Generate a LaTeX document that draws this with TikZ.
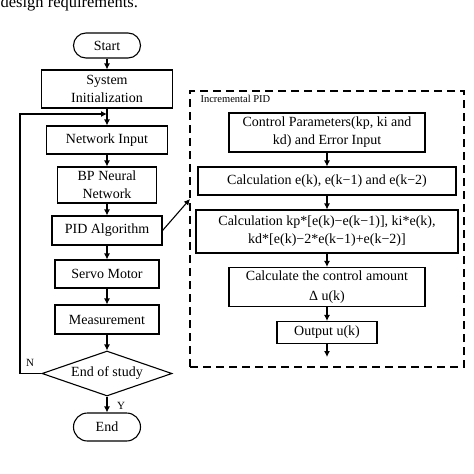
\documentclass[tikz,border=0pt]{standalone}
\usepackage{fontspec}
\setmainfont{Liberation Serif}
\usetikzlibrary{shapes.geometric,arrows.meta}
\begin{document}
\begin{tikzpicture}[x=1pt,y=-1pt,line width=1.1pt,
  box/.style={draw,rectangle,align=center,inner sep=0pt,font=\fontsize{14}{18}\selectfont},
  term/.style={box,rounded corners=#1},
  arr/.style={-{Latex[length=6pt,width=6pt]}},
  lbl/.style={inner sep=0pt,font=\fontsize{11}{13}\selectfont}]
\useasboundingbox (0,0) rectangle (474,474);
\node[anchor=base west,inner sep=0pt,font=\fontsize{16.5}{20}\selectfont] (cap) at (0,7) {design requirements.};
% left column
\node[term=12.5pt,minimum width=67pt,minimum height=25pt] (start) at (107,45.5) {Start};
\node[box,minimum width=131pt,minimum height=38pt] (init) at (107,89) {System\\Initialization};
\node[box,minimum width=121pt,minimum height=28pt] (netin) at (107,140) {Network Input};
\node[box,minimum width=99pt,minimum height=36pt] (bp) at (107,185) {BP Neural\\Network};
\node[box,minimum width=110pt,minimum height=29pt] (pid) at (107,230.5) {PID Algorithm};
\node[box,minimum width=104pt,minimum height=28pt] (servo) at (107,274) {Servo Motor};
\node[box,minimum width=104pt,minimum height=29pt] (meas) at (107,319.5) {Measurement};
\node[draw,diamond,aspect=2.9,inner sep=0pt,minimum width=130pt,minimum height=45pt,font=\fontsize{14}{18}\selectfont] (dia) at (107,373.5) {End of study};
\node[term=14pt,minimum width=67pt,minimum height=28pt] (endn) at (107,427) {End};
\draw[arr] (start) -- (init);
\draw[arr] (init) -- (netin);
\draw[arr] (netin) -- (bp);
\draw[arr] (bp) -- (pid);
\draw[arr] (pid) -- (servo);
\draw[arr] (servo) -- (meas);
\draw[arr] (meas) -- (dia);
\draw[arr] (dia) -- (endn);
\coordinate (lc) at (20,114);
\coordinate (loopin) at (107,114);
\draw[arr] (dia.west) -| (lc) -- (loopin);
\node[lbl] (nlab) at (30,363) {N};
\node[lbl] (ylab) at (121,406) {Y};
% incremental PID
\node[draw,dash pattern=on 8pt off 5pt,minimum width=274pt,minimum height=276pt,inner sep=0pt] (inc) at (327,229) {};
\node[anchor=west,inner sep=0pt,font=\fontsize{10.5}{12}\selectfont] (inclbl) at (200,99) {Incremental PID};
\node[box,minimum width=196pt,minimum height=39pt] (cp) at (327,132.5) {Control Parameters(kp, ki and\\kd) and Error Input};
\node[box,minimum width=258pt,minimum height=28pt] (ce) at (327,181) {Calculation e(k), e(k−1) and e(k−2)};
\node[box,minimum width=262pt,minimum height=43pt] (ckp) at (327,231.5) {Calculation kp*[e(k)−e(k−1)], ki*e(k),\\kd*[e(k)−2*e(k−1)+e(k−2)]};
\node[box,minimum width=196pt,minimum height=39pt,font=\fontsize{14}{20}\selectfont] (camt) at (327,287) {Calculate the control amount\\Δ u(k)};
\node[box,minimum width=100pt,minimum height=22pt] (out) at (327,332.5) {Output u(k)};
\coordinate (outend) at (327,357);
\draw[arr] (cp) -- (ce);
\draw[arr] (ce) -- (ckp);
\draw[arr] (ckp) -- (camt);
\draw[arr] (camt) -- (out);
\draw[arr] (out) -- (outend);
\coordinate (tgt) at (190,199);
\draw[arr] (pid.east) -- (tgt);
\end{tikzpicture}
\end{document}
